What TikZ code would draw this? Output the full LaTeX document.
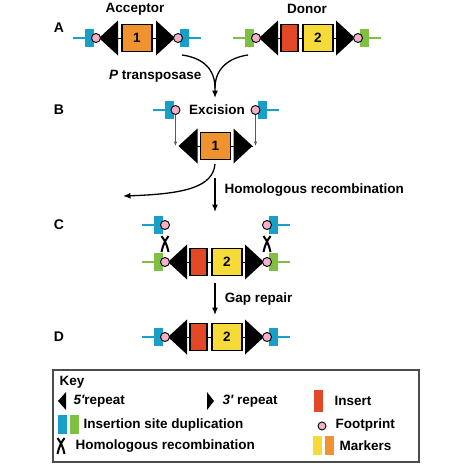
\documentclass[tikz,border=0pt]{standalone}
\usepackage{fontspec}
\setmainfont{Liberation Sans}
\usetikzlibrary{arrows.meta,positioning}
\definecolor{tsdcyan}{RGB}{22,160,200}
\definecolor{tsdgreen}{RGB}{125,192,66}
\definecolor{mkorange}{RGB}{240,146,48}
\definecolor{mkyellow}{RGB}{246,218,58}
\definecolor{insred}{RGB}{226,72,38}
\definecolor{fppink}{RGB}{244,178,200}

\begin{document}
\begin{tikzpicture}[x=1pt,y=-1pt,>={Latex[length=7.5pt,width=6pt]},
  font=\fontsize{13.5}{15}\selectfont\bfseries,
  marker/.style={draw,line width=1.6,minimum width=30,minimum height=27,inner sep=0},
  insert/.style={draw,fill=insred,line width=1.6,minimum width=17,minimum height=27,inner sep=0},
  footprint/.style={circle,draw,fill=fppink,line width=0.9,minimum size=9,inner sep=0},
  flow/.style={line width=1.3,->},
  feed/.style={gray!70!black,line width=0.7,-{Latex[length=4.5pt,width=3.5pt]}},
  chi/.style={line width=2},
  rowlabel/.style={font=\fontsize{14}{16}\selectfont\bfseries}]
\useasboundingbox (0,0) rectangle (474,474);

% row labels
\node[rowlabel] (rowA) at (59,28) {A};
\node[rowlabel] (rowB) at (59,110) {B};
\node[rowlabel] (rowC) at (59,225) {C};
\node[rowlabel] (rowD) at (59,337) {D};
\node (acclab) at (135,9) {Acceptor};
\node (donlab) at (307,9) {Donor};

% 5' and 3' repeats with the element between them
\foreach \xl/\xr/\yy in {99/175/38, 259/355/38, 178.5/252.5/146, 168/264/262, 168/264/337} {
  \draw[line width=0.8] (\xl,\yy) -- (\xr,\yy);
  \fill (\xl,\yy) -- ++(19,-17.5) -- ++(0,35) -- cycle;
  \fill (\xr,\yy) -- ++(-19,-17.5) -- ++(0,35) -- cycle;
}

% markers and inserts
\node[marker,fill=mkorange] (acc1) at (137,38) {1};
\node[insert] (donins) at (289.5,38) {};
\node[marker,fill=mkyellow] (don2) at (318,38) {2};
\node[marker,fill=mkorange] (exc1) at (215.5,146) {1};
\node[insert] (recins) at (198.5,262) {};
\node[marker,fill=mkyellow] (rec2) at (227,262) {2};
\node[insert] (repins) at (198.5,337) {};
\node[marker,fill=mkyellow] (rep2) at (227,337) {2};

% insertion site duplications and footprints
\foreach \px/\sd/\side/\col/\yy in {96/-1/L/tsdcyan/38, 178/1/R/tsdcyan/38,
    256/-1/dL/tsdgreen/38, 358/1/dR/tsdgreen/38,
    175.5/-1/L/tsdcyan/110, 255.5/1/R/tsdcyan/110,
    165/-1/L/tsdcyan/225, 267/1/R/tsdcyan/225,
    165/-1/L/tsdgreen/262, 267/1/R/tsdgreen/262,
    165/-1/L/tsdcyan/337, 267/1/R/tsdcyan/337} {
  \draw[\col,line width=1.2] (\px,\yy) -- ++(\sd*23,0);
  \fill[\col] (\px+\sd*2,\yy-9) rectangle ++(\sd*9,18);
  \node[footprint] (fp\side\yy) at (\px,\yy) {};
}

% homologous recombination
\foreach \xx/\yy in {165/244, 267/244, 61/446} {
  \draw[chi] (\xx-3.5,\yy-8) to[bend left=12] (\xx+3.5,\yy+8);
  \draw[chi] (\xx+3.5,\yy-8) to[bend right=12] (\xx-3.5,\yy+8);
}

% A to B
\coordinate (accout) at (182,55);
\coordinate (donout) at (248,55);
\coordinate (tpjoin) at (215,88);
\coordinate (tpend) at (215,98);
\draw[line width=1.3] (accout) .. controls (204,58) and (215,70) .. (tpjoin);
\draw[flow] (donout) .. controls (227,58) and (215,70) .. (tpjoin) -- (tpend);
\node[anchor=east] (ptrans) at (205,76) {\itshape P\upshape\ transposase};

% B: excision
\node (excis) at (217,110) {Excision};
\coordinate (tipBl) at (178.5,146);
\coordinate (tipBr) at (252.5,146);
\draw[feed] (fpL110) -- (fpL110 |- tipBl);
\draw[feed] (fpR110) -- (fpR110 |- tipBr);

% B to C
\coordinate (excout) at (215,164);
\coordinate (lost) at (123,196);
\draw[flow] (excout) .. controls (213,187) and (185,194) .. (lost);
\coordinate (hrtop) at (215,178);
\coordinate (hrbot) at (215,212);
\draw[flow] (hrtop) -- (hrbot);
\node[anchor=west] (hrlab) at (221,190) {Homologous recombination};

% C to D
\coordinate (gptop) at (215,283);
\coordinate (gpbot) at (215,315);
\draw[flow] (gptop) -- node[right=6pt] (gplab) {Gap repair} (gpbot);

% key
\draw[gray!60!black,line width=1.2] (53,370) rectangle (419,462);
\node[anchor=west] (keyt) at (56,382) {Key};
\fill (58,401) -- (66,392) -- (66,410) -- cycle;
\node[anchor=west] (k5) at (70,401) {\itshape 5′\upshape repeat};
\fill (214,401) -- (207,392) -- (207,410) -- cycle;
\node[anchor=west] (k3) at (219,401) {\itshape 3′\upshape\ repeat};
\fill[insred] (314,390) rectangle (323,412);
\node[anchor=west] (kins) at (331,401) {Insert};
\fill[tsdcyan] (58,415) rectangle (67,434);
\fill[tsdgreen] (70,415) rectangle (79,434);
\node[anchor=west] (ktsd) at (80,425) {Insertion site duplication};
\node[footprint,minimum size=8] (kfp) at (322,426) {};
\node[anchor=west] (kfpt) at (332,425) {Footprint};
\node[anchor=west] (khr) at (72,446) {Homologous recombination};
\fill[mkyellow] (313,436) rectangle (322,455);
\fill[mkorange] (325,436) rectangle (334,455);
\node[anchor=west] (kmk) at (336,446) {Markers};
\end{tikzpicture}
\end{document}
